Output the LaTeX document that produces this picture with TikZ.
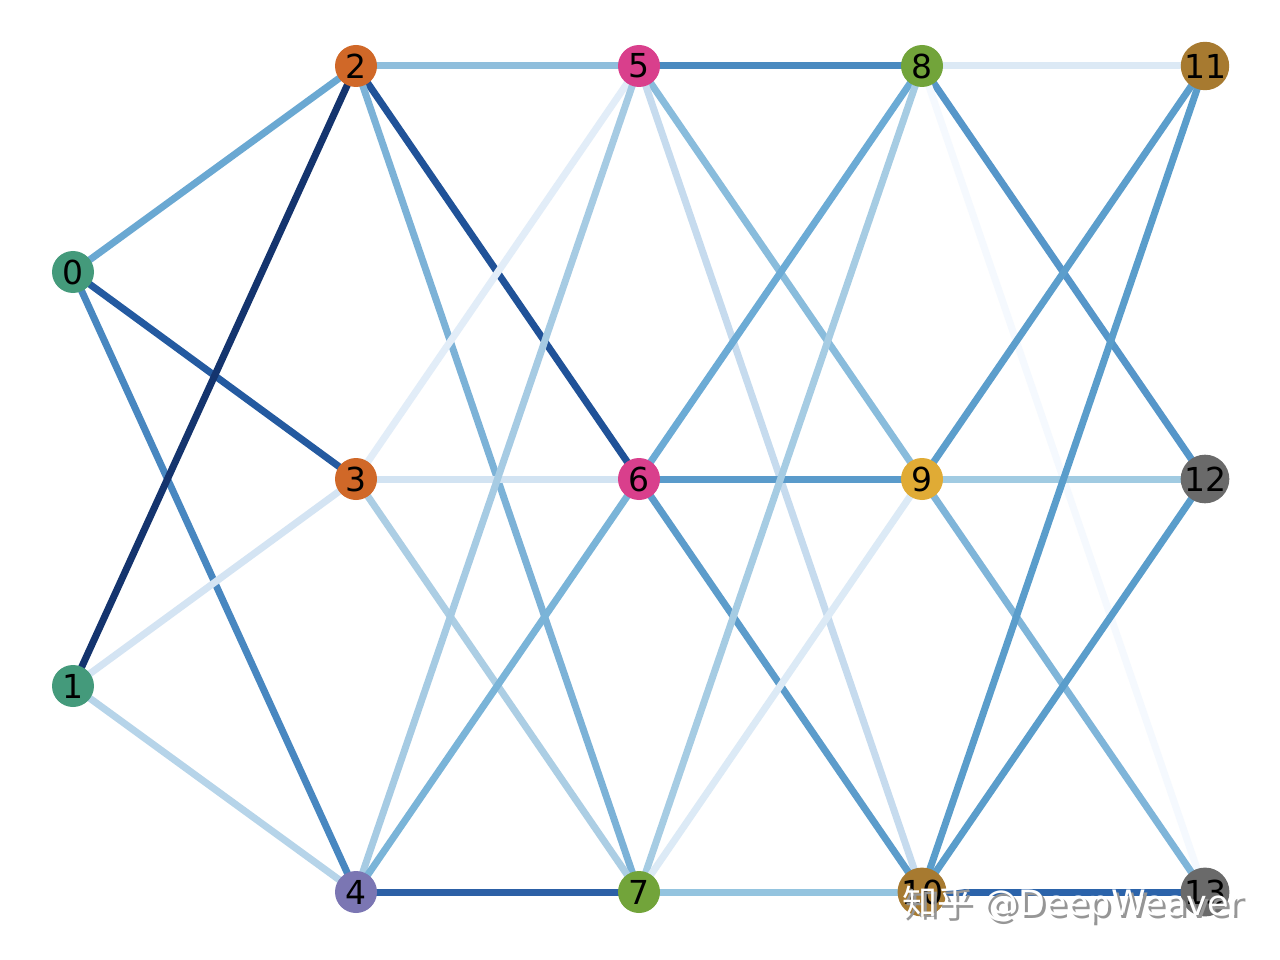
\documentclass[tikz,border=0pt]{standalone}
\usepackage{fontspec}
\setmainfont{DejaVu Sans}
\newfontfamily\cjk{Noto Sans CJK SC}
\begin{document}
\begin{tikzpicture}[x=1pt,y=-1pt,
  nd/.style={circle,minimum size=42pt,inner sep=0pt,font=\fontsize{33}{33}\selectfont,text=black},
  ed/.style={line width=7pt}]
\useasboundingbox (0,0) rectangle (1280,960);
\fill[white] (0,0) rectangle (1280,960);
% coordinates
\coordinate (p0) at (73,272);
\coordinate (p1) at (73,686);
\coordinate (p2) at (356,66);
\coordinate (p3) at (356,479);
\coordinate (p4) at (356,892);
\coordinate (p5) at (639,66);
\coordinate (p6) at (639,479);
\coordinate (p7) at (639,892);
\coordinate (p8) at (922,66);
\coordinate (p9) at (922,479);
\coordinate (p10) at (922,892);
\coordinate (p11) at (1205,66);
\coordinate (p12) at (1205,479);
\coordinate (p13) at (1205,892);
% edges
\draw[ed,color={rgb,255:red,106;green,168;blue,210}] (p0) -- (p2);
\draw[ed,color={rgb,255:red,36;green,90;blue,160}] (p0) -- (p3);
\draw[ed,color={rgb,255:red,72;green,135;blue,192}] (p0) -- (p4);
\draw[ed,color={rgb,255:red,20;green,52;blue,110}] (p1) -- (p2);
\draw[ed,color={rgb,255:red,212;green,228;blue,243}] (p1) -- (p3);
\draw[ed,color={rgb,255:red,182;green,212;blue,233}] (p1) -- (p4);
\draw[ed,color={rgb,255:red,143;green,190;blue,220}] (p2) -- (p5);
\draw[ed,color={rgb,255:red,32;green,82;blue,152}] (p2) -- (p6);
\draw[ed,color={rgb,255:red,124;green,178;blue,215}] (p2) -- (p7);
\draw[ed,color={rgb,255:red,226;green,237;blue,248}] (p3) -- (p5);
\draw[ed,color={rgb,255:red,210;green,227;blue,242}] (p3) -- (p6);
\draw[ed,color={rgb,255:red,172;green,206;blue,228}] (p3) -- (p7);
\draw[ed,color={rgb,255:red,166;green,203;blue,227}] (p4) -- (p5);
\draw[ed,color={rgb,255:red,122;green,180;blue,216}] (p4) -- (p6);
\draw[ed,color={rgb,255:red,44;green,96;blue,166}] (p4) -- (p7);
\draw[ed,color={rgb,255:red,74;green,138;blue,192}] (p5) -- (p8);
\draw[ed,color={rgb,255:red,137;green,188;blue,220}] (p5) -- (p9);
\draw[ed,color={rgb,255:red,198;green,219;blue,238}] (p5) -- (p10);
\draw[ed,color={rgb,255:red,108;green,171;blue,213}] (p6) -- (p8);
\draw[ed,color={rgb,255:red,90;green,155;blue,203}] (p6) -- (p9);
\draw[ed,color={rgb,255:red,92;green,156;blue,203}] (p6) -- (p10);
\draw[ed,color={rgb,255:red,166;green,204;blue,227}] (p7) -- (p8);
\draw[ed,color={rgb,255:red,220;green,234;blue,246}] (p7) -- (p9);
\draw[ed,color={rgb,255:red,148;green,196;blue,223}] (p7) -- (p10);
\draw[ed,color={rgb,255:red,220;green,233;blue,245}] (p8) -- (p11);
\draw[ed,color={rgb,255:red,86;green,150;blue,201}] (p8) -- (p12);
\draw[ed,color={rgb,255:red,245;green,249;blue,254}] (p8) -- (p13);
\draw[ed,color={rgb,255:red,92;green,158;blue,204}] (p9) -- (p11);
\draw[ed,color={rgb,255:red,161;green,203;blue,226}] (p9) -- (p12);
\draw[ed,color={rgb,255:red,127;green,181;blue,217}] (p9) -- (p13);
\draw[ed,color={rgb,255:red,90;green,157;blue,203}] (p10) -- (p11);
\draw[ed,color={rgb,255:red,90;green,157;blue,203}] (p10) -- (p12);
\draw[ed,color={rgb,255:red,43;green,99;blue,170}] (p10) -- (p13);
% nodes
\node[nd,fill={rgb,255:red,68;green,154;blue,123}] (n0) at (p0) {0};
\node[nd,fill={rgb,255:red,68;green,154;blue,123}] (n1) at (p1) {1};
\node[nd,fill={rgb,255:red,208;green,104;blue,40}] (n2) at (p2) {2};
\node[nd,fill={rgb,255:red,208;green,104;blue,40}] (n3) at (p3) {3};
\node[nd,fill={rgb,255:red,123;green,118;blue,179}] (n4) at (p4) {4};
\node[nd,fill={rgb,255:red,217;green,63;blue,140}] (n5) at (p5) {5};
\node[nd,fill={rgb,255:red,217;green,63;blue,140}] (n6) at (p6) {6};
\node[nd,fill={rgb,255:red,114;green,164;blue,58}] (n7) at (p7) {7};
\node[nd,fill={rgb,255:red,114;green,164;blue,58}] (n8) at (p8) {8};
\node[nd,fill={rgb,255:red,224;green,171;blue,53}] (n9) at (p9) {9};
\node[nd,fill={rgb,255:red,167;green,122;blue,48}] (n10) at (p10) {10};
\node[nd,fill={rgb,255:red,167;green,122;blue,48}] (n11) at (p11) {11};
\node[nd,fill={rgb,255:red,106;green,106;blue,106}] (n12) at (p12) {12};
\node[nd,fill={rgb,255:red,106;green,106;blue,106}] (n13) at (p13) {13};
% watermark
\node[text={rgb,255:red,150;green,150;blue,150},font=\fontsize{35}{35}\selectfont] (wms) at (1076,907) {{\cjk 知乎} @DeepWeaver};
\node[text=white,font=\fontsize{35}{35}\selectfont] (wm) at (1073,904) {{\cjk 知乎} @DeepWeaver};
\end{tikzpicture}
\end{document}
